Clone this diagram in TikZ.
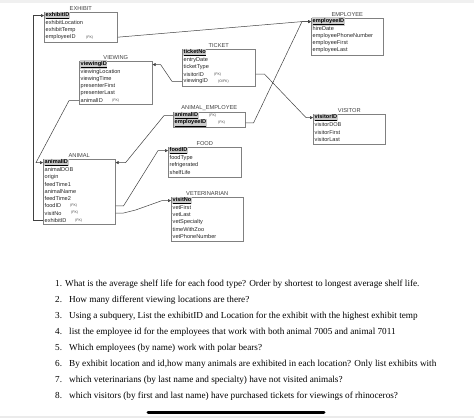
\documentclass[tikz,border=0pt]{standalone}
\usepackage{fontspec}
\setmainfont{Liberation Serif}
\setsansfont{Liberation Sans}
\usetikzlibrary{arrows.meta}

% name, left, top, width, height, title, number of key rows, rows
\newcommand\ertable[8]{%
  \node[tablebox, minimum width=#4, minimum height=#5] (#1) at (#2,#3) {};
  \node[tabletitle] (#1-title) at (#1.north) {#6};
  \foreach \r [count=\i] in {#8} {
    \ifnum\i>#7
      \node[field] (#1-\i) at ([shift={(1,{3.6+7.2*(\i-1)})}]#1.north west) {\r};
    \else
      \node[keyfield] (#1-\i) at ([shift={(1,{3.6+7.2*(\i-1)})}]#1.north west) {\underline{\textbf{\r}}};
    \fi
  }
}

\begin{document}
\begin{tikzpicture}[
    x=1pt, y=-1pt,
tablebox/.style={draw=black!50, line width=0.6pt, anchor=north west, inner sep=0pt},
tabletitle/.style={anchor=south, inner sep=0.6pt, yshift=0.6pt, text=black!75,
    font=\sffamily\fontsize{5.7}{6}\selectfont},
field/.style={anchor=west, inner sep=0.5pt, text=black!85,
    font=\sffamily\fontsize{5.6}{6}\selectfont},
keyfield/.style={field, fill=black!20, text=black},
fk/.style={anchor=west, inner sep=0pt, text=black!75, font=\sffamily\fontsize{3.5}{4}\selectfont},
link/.style={draw=black!75, line width=0.5pt, -{Triangle[length=3pt,width=3pt]}},
qtext/.style={anchor=base west, inner sep=0pt, text=black, font=\fontsize{9.2}{10}\selectfont},
]
\useasboundingbox (0,0) rectangle (474,418);
\fill[black!6] (0,0) rectangle (474,3);
\fill[black!8] (0,415.5) rectangle (474,418);

\ertable{exhibit}{44}{12}{73}{29.5}{EXHIBIT}{1}{exhibitID,exhibitLocation,exhibitTemp,employeeID}
\ertable{employee}{311}{18}{72}{36.5}{EMPLOYEE}{1}{employeeID,hireDate,employeePhoneNumber,employeeFirst,employeeLast}
\ertable{viewing}{79}{61}{73}{43}{VIEWING}{1}{viewingID,viewingLocation,viewingTime,presenterFirst,presenterLast,animalID}
\ertable{ticket}{182}{49}{73}{37}{TICKET}{1}{ticketNo,entryDate,ticketType,visitorID,viewingID}
\ertable{ae}{173}{112}{72}{15}{ANIMAL\_EMPLOYEE}{2}{animalID,employeeID}
\ertable{visitor}{313}{114}{72}{29.5}{VISITOR}{1}{visitorID,visitorDOB,visitorFirst,visitorLast}
\ertable{food}{168}{147}{73}{29.5}{FOOD}{1}{foodID,foodType,refrigerated,shelfLife}
\ertable{vet}{171}{197}{72}{43.5}{VETERINARIAN}{1}{visitNo,vetFirst,vetLast,vetSpecialty,timeWithZoo,vetPhoneNumber}
\ertable{animal}{43}{159}{72}{65}{ANIMAL}{1}{animalID,animalDOB,origin,feedTime1,animalName,feedTime2,foodID,visitNo,exhibitID}

\node[fk] at (86,0 |- exhibit-4) {(FK)};
\node[fk] at (112,0 |- viewing-6) {(FK)};
\node[fk] at (214,0 |- ticket-4) {(FK)};
\node[fk] at (218,0 |- ticket-5) {(O/FK)};
\node[fk] at (209,0 |- ae-1) {(FK)};
\node[fk] at (218,0 |- ae-2) {(FK)};
\foreach \r/\x in {7/70,8/71,9/75}
  \node[fk] at (\x,0 |- animal-\r) {(FK)};

\draw[link] (animal.west |- animal-9) -- ++(-10,0) |- (exhibit.west |- exhibit-1);
\draw[link] (exhibit.east |- exhibit-4) -- ([xshift=-9]employee.west |- employee-1) -- (employee.west |- employee-1);
\draw[link] (ae.east |- ae-2) -- ++(8,0) -- ([xshift=-9]employee.west |- employee-1) -- (employee.west |- employee-1);
\draw[link] (ticket.west |- ticket-5) -- ++(-10,0) -- ([xshift=8]viewing.east |- viewing-1) -- (viewing.east |- viewing-1);
\draw[link] (ticket.east |- ticket-4) -- ++(9,0) -- ([xshift=-7]visitor.west |- visitor-1) -- (visitor.west |- visitor-1);
\draw[link] (viewing.west |- viewing-6) -- ++(-10,0) -- ([xshift=-7]animal.west |- animal-1) -- (animal.west |- animal-1);
\draw[link] (ae.west |- ae-1) -- ++(-9,0) -- ([xshift=10]animal.east |- animal-1) -- (animal.east |- animal-1);
\draw[link] (animal.east |- animal-7) -- ++(8,0) -- ([xshift=-10]food.west |- food-1) -- (food.west |- food-1);
\draw[link] (animal.east |- animal-8) -- ++(8,0) -- ++(12,-3) -- ([xshift=-9]vet.west |- vet-1) -- (vet.west |- vet-1);

\node[qtext] (q1) at (55,286) {1. What is the average shelf life for each food type? Order by shortest to longest average shelf life.};
\foreach \n/\t in {
  2/{How many different viewing locations are there?},
  3/{Using a subquery, List the exhibitID and Location for the exhibit with the highest exhibit temp},
  4/{list the employee id for the employees that work with both animal 7005 and animal 7011},
  5/{Which employees (by name) work with polar bears?},
  6/{By exhibit location and id,how many animals are exhibited in each location? Only list exhibits with},
  7/{which veterinarians (by last name and specialty) have not visited animals?},
  8/{which visitors (by first and last name) have purchased tickets for viewings of rhinoceros?}} {
  \node[qtext] (n\n) at (55,{286+16*(\n-1)}) {\n.};
  \node[qtext] (q\n) at (69,{286+16*(\n-1)}) {\t};
}

\draw[line width=3, line cap=round] (148,412) -- (324,412);
\end{tikzpicture}
\end{document}
